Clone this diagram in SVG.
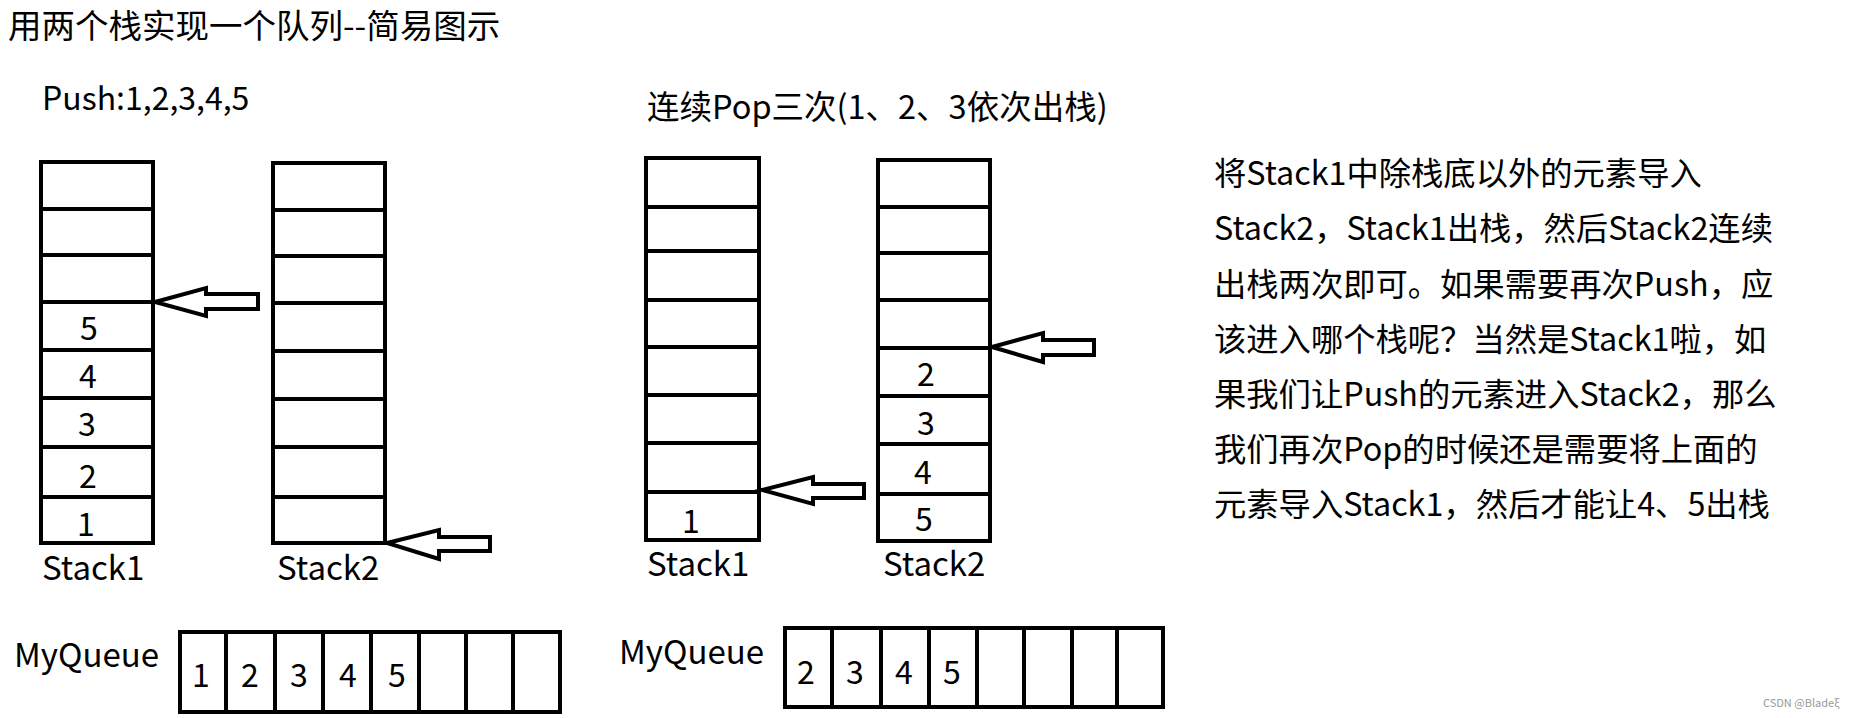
<svg xmlns="http://www.w3.org/2000/svg" width="1856" height="718" viewBox="0 0 1856 718">
<style>
text{font-family:"Noto Sans CJK SC","Noto Sans",sans-serif;fill:#000}
.t{font-size:33px}
.n{font-size:32px;text-anchor:middle}
.b{fill:none;stroke:#000;stroke-width:4}
.a{fill:#fff;stroke:#000;stroke-width:4;stroke-linejoin:miter}
</style>
<rect width="1856" height="718" fill="#fff"/>
<text x="8" y="38" font-size="33.5">用两个栈实现一个队列--简易图示</text>
<text x="42" y="110" font-size="32">Push:1,2,3,4,5</text>
<text x="647" y="119" font-size="32.5">连续Pop三次(1、2、3依次出栈)</text>

<g id="stack1a">
<rect class="b" x="41" y="162" width="112" height="381"/>
<path class="b" d="M41 209H153M41 255H153M41 302H153M41 350H153M41 398H153M41 447H153M41 497H153"/>
<text class="n" x="89" y="340">5</text><text class="n" x="88" y="388">4</text><text class="n" x="87" y="436">3</text><text class="n" x="88" y="488">2</text><text class="n" x="86" y="536">1</text>
<text x="42" y="580" class="t">Stack1</text>
</g>
<g id="stack2a">
<rect class="b" x="273" y="163" width="112" height="380"/>
<path class="b" d="M273 210H385M273 256H385M273 303H385M273 351H385M273 399H385M273 447H385M273 497H385"/>
<text x="277" y="580" class="t">Stack2</text>
</g>
<g id="stack1b">
<rect class="b" x="646" y="158" width="113" height="382"/>
<path class="b" d="M646 207H759M646 251H759M646 300H759M646 347H759M646 395H759M646 443H759M646 492H759"/>
<text class="n" x="691" y="533">1</text>
<text x="647" y="576" class="t">Stack1</text>
</g>
<g id="stack2b">
<rect class="b" x="878" y="160" width="112" height="381"/>
<path class="b" d="M878 207H990M878 253H990M878 300H990M878 348H990M878 396H990M878 444H992M878 494H990"/>
<text class="n" x="926" y="386">2</text><text class="n" x="926" y="435">3</text><text class="n" x="923" y="484">4</text><text class="n" x="924" y="531">5</text>
<text x="883" y="576" class="t">Stack2</text>
</g>
<g id="queue1">
<text x="14" y="667" class="t">MyQueue</text>
<rect class="b" x="180" y="632" width="380" height="80"/>
<path class="b" d="M226 632V712M275 632V712M323 632V712M371 632V712M419 632V712M466 632V712M513 632V712"/>
<text class="n" x="201" y="687">1</text><text class="n" x="250" y="687">2</text><text class="n" x="299" y="687">3</text><text class="n" x="348" y="687">4</text><text class="n" x="397" y="687">5</text>
</g>
<g id="queue2">
<text x="619" y="664" class="t">MyQueue</text>
<rect class="b" x="785" y="628" width="378" height="79"/>
<path class="b" d="M832 628V707M881 628V707M929 628V707M977 628V707M1024 628V707M1072 628V707M1117 628V707"/>
<text class="n" x="806" y="684">2</text><text class="n" x="855" y="684">3</text><text class="n" x="904" y="684">4</text><text class="n" x="952" y="684">5</text>
</g>
<g id="connectors">
<path class="a" d="M155 302L206 288V294H258V309H206V316Z"/>
<path class="a" d="M387 543L439 530V537H490V551H439V559Z"/>
<path class="a" d="M992 347L1043 333V340H1094V355H1043V362Z"/>
<path class="a" d="M762 490L813 477V484H864V498H813V504Z"/>
</g>
<g id="note" font-size="32.3">
<text x="1214" y="185">将Stack1中除栈底以外的元素导入</text>
<text x="1214" y="240">Stack2，Stack1出栈，然后Stack2连续</text>
<text x="1214" y="296">出栈两次即可。如果需要再次Push，应</text>
<text x="1214" y="351">该进入哪个栈呢？当然是Stack1啦，如</text>
<text x="1214" y="406">果我们让Push的元素进入Stack2，那么</text>
<text x="1214" y="461">我们再次Pop的时候还是需要将上面的</text>
<text x="1214" y="516">元素导入Stack1，然后才能让4、5出栈</text>
</g>
<text x="1763" y="707" font-size="11" style="fill:#999">CSDN @Bladeξ</text>
</svg>
